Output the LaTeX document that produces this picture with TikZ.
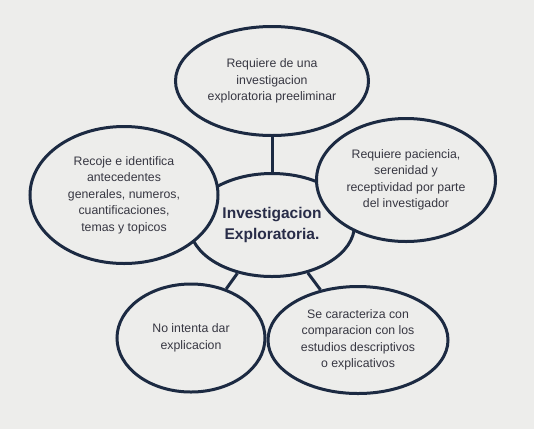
\documentclass[tikz,border=0pt]{standalone}
\usepackage{fontspec}
\setmainfont{Liberation Sans}
\usetikzlibrary{shapes.geometric}
\definecolor{fondo}{RGB}{237,237,235}
\definecolor{borde}{RGB}{28,42,66}
\definecolor{letra}{RGB}{55,55,66}
\definecolor{titulo}{RGB}{40,44,72}

\begin{document}
\begin{tikzpicture}[x=1pt, y=-1pt,
    burbuja/.style={ellipse, draw=borde, line width=3pt, fill=fondo,
      inner sep=0pt, align=center, text=letra,
      font=\fontsize{12.3}{16.5}\selectfont},
    enlace/.style={draw=borde, line width=3pt}]
    \fill[fondo] (0,0) rectangle (534,429);

    \node[burbuja, minimum width=165pt, minimum height=103pt, text=titulo,
      font=\bfseries\fontsize{15.5}{21}\selectfont] (centro) at (272,225)
      {Investigacion\\ Exploratoria.};

    \node[burbuja, minimum width=188pt, minimum height=137pt] (izq) at (124,195)
      {Recoje e identifica\\ antecedentes\\ generales, numeros,\\ cuantificaciones,\\ temas y topicos};
    \node[burbuja, minimum width=179pt, minimum height=123pt] (der) at (406,180)
      {Requiere paciencia,\\ serenidad y\\ receptividad por parte\\ del investigador};
    \node[burbuja, minimum width=193pt, minimum height=109pt] (arriba) at (272,81)
      {Requiere de una\\ investigacion\\ exploratoria preeliminar};
    \node[burbuja, minimum width=148pt, minimum height=108pt] (abizq) at (191,338)
      {No intenta dar\\ explicacion};
    \node[burbuja, minimum width=180pt, minimum height=107pt] (abder) at (358,340)
      {Se caracteriza con\\ comparacion con los\\ estudios descriptivos\\ o explicativos};

    \draw[enlace] (arriba) -- (centro);
    \draw[enlace] (centro) -- (abizq);
    \draw[enlace] (centro) -- (abder);
\end{tikzpicture}
\end{document}
